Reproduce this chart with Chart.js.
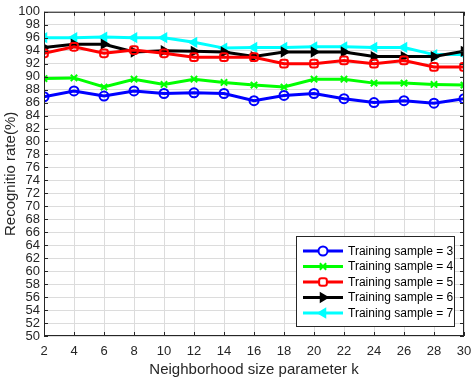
<!DOCTYPE html>
<html>
<head>
<meta charset="utf-8">
<script src="https://cdn.jsdelivr.net/npm/chart.js@4.4.1/dist/chart.umd.min.js"></script>
<style>
  html, body { margin: 0; padding: 0; background: #fff; }
  #wrap { width: 474px; height: 379px; }
</style>
</head>
<body>
<div id="wrap"><canvas id="c" width="474" height="379"></canvas></div>
<script>
const kValues = [2, 4, 6, 8, 10, 12, 14, 16, 18, 20, 22, 24, 26, 28, 30];

const sample3 = [86.9, 87.8, 87.0, 87.8, 87.4, 87.5, 87.4, 86.3, 87.1, 87.4, 86.6, 86.0, 86.3, 85.9, 86.6];
const sample4 = [89.7, 89.8, 88.4, 89.6, 88.8, 89.6, 89.1, 88.7, 88.4, 89.6, 89.6, 89.0, 89.0, 88.8, 88.7];
const sample5 = [93.6, 94.6, 93.6, 94.1, 93.6, 93.0, 93.0, 93.0, 92.0, 92.0, 92.5, 92.0, 92.5, 91.5, 91.5];
const sample6 = [94.5, 95.0, 95.0, 93.8, 94.0, 93.9, 93.8, 93.1, 93.8, 93.8, 93.8, 93.1, 93.1, 93.1, 93.9];
const sample7 = [96.0, 96.0, 96.1, 96.0, 96.0, 95.3, 94.4, 94.5, 94.5, 94.6, 94.6, 94.5, 94.5, 93.4, 93.4];

const seriesLabels = [
    "Training sample = 3",
    "Training sample = 4",
    "Training sample = 5",
    "Training sample = 6",
    "Training sample = 7"
];

const FONT = "'Liberation Sans', Arial, sans-serif";

function series(label, data, color, style, rotation, fill) {
    return {
        label: label,
        data: kValues.map((k, i) => ({ x: k, y: data[i] })),
        borderColor: color,
        backgroundColor: fill ? color : "rgba(255,255,255,0)",
        pointBorderColor: color,
        pointBackgroundColor: fill ? color : "rgba(255,255,255,0)",
        pointStyle: style,
        pointRotation: rotation,
        pointRadius: 4.5,
        pointBorderWidth: 2,
        borderWidth: 3,
        tension: 0
    };
}

// box, inward ticks and in-plot legend like the original figure
const matlabBox = {
    id: "matlabBox",
    afterDraw(chart) {
        const ctx = chart.ctx;
        const a = chart.chartArea;
        const xs = chart.scales.x;
        const ys = chart.scales.y;
        ctx.save();
        ctx.strokeStyle = "#262626";
        ctx.lineWidth = 1;
        ctx.strokeRect(a.left + 0.5, a.top + 0.5, a.right - a.left - 1, a.bottom - a.top - 1);
        ctx.beginPath();
        xs.ticks.forEach(t => {
            const px = Math.round(xs.getPixelForValue(t.value)) + 0.5;
            ctx.moveTo(px, a.bottom); ctx.lineTo(px, a.bottom - 4);
            ctx.moveTo(px, a.top); ctx.lineTo(px, a.top + 4);
        });
        ys.ticks.forEach(t => {
            const py = Math.round(ys.getPixelForValue(t.value)) + 0.5;
            ctx.moveTo(a.left, py); ctx.lineTo(a.left + 4, py);
            ctx.moveTo(a.right, py); ctx.lineTo(a.right - 4, py);
        });
        ctx.stroke();

        // legend
        const lx = 296, ly = 236, lw = 158, lh = 90;
        ctx.fillStyle = "#fff";
        ctx.fillRect(lx, ly, lw, lh);
        ctx.strokeStyle = "#262626";
        ctx.strokeRect(lx + 0.5, ly + 0.5, lw, lh);
        ctx.font = "12px " + FONT;
        ctx.textBaseline = "middle";
        chart.data.datasets.forEach((ds, i) => {
            const y = ly + 15 + i * 15.5;
            ctx.strokeStyle = ds.borderColor;
            ctx.lineWidth = 3;
            ctx.beginPath();
            ctx.moveTo(lx + 7, y); ctx.lineTo(lx + 47, y);
            ctx.stroke();
            ctx.fillStyle = ds.pointBackgroundColor === "rgba(255,255,255,0)" ? "#fff" : ds.pointBackgroundColor;
            ctx.strokeStyle = ds.pointBorderColor;
            ctx.lineWidth = 2;
            Chart.helpers.drawPoint(ctx, {
                pointStyle: ds.pointStyle,
                rotation: ds.pointRotation,
                radius: 4.5,
                borderWidth: 2
            }, lx + 27, y);
            ctx.fillStyle = "#000";
            ctx.fillText(ds.label, lx + 52, y + 0.5);
        });
        ctx.restore();
    }
};

new Chart(document.getElementById("c"), {
    type: "line",
    data: {
        datasets: [
            series(seriesLabels[0], sample3, "#0000ff", "circle", 0, false),
            series(seriesLabels[1], sample4, "#00ff00", "crossRot", 0, false),
            series(seriesLabels[2], sample5, "#ff0000", "rectRounded", 0, false),
            series(seriesLabels[3], sample6, "#000000", "triangle", 90, true),
            series(seriesLabels[4], sample7, "#00ffff", "triangle", -90, true)
        ]
    },
    options: {
        responsive: false,
        animation: false,
        layout: { padding: { top: 0, right: 10, bottom: 0, left: 0 } },
        plugins: {
            legend: { display: false },
            tooltip: { enabled: false }
        },
        scales: {
            x: {
                type: "linear",
                min: 2,
                max: 30,
                ticks: {
                    stepSize: 2,
                    color: "#262626",
                    font: { family: FONT, size: 13 },
                    padding: 2,
                    maxRotation: 0
                },
                grid: { color: "#dcdcdc", tickLength: 6, tickColor: "rgba(0,0,0,0)" },
                border: { display: false },
                title: {
                    display: true,
                    text: "Neighborhood size parameter k",
                    color: "#262626",
                    font: { family: FONT, size: 15 },
                    padding: { top: 2, bottom: 0 }
                },
                afterFit(scale) { scale.height = 43; }
            },
            y: {
                min: 50,
                max: 100,
                ticks: {
                    stepSize: 2,
                    autoSkip: false,
                    color: "#262626",
                    font: { family: FONT, size: 13 },
                    padding: 4
                },
                grid: { color: "#dcdcdc", tickLength: 0 },
                border: { display: false },
                title: {
                    display: true,
                    text: "Recognitio rate(%)",
                    color: "#262626",
                    font: { family: FONT, size: 15 },
                    padding: { top: 2, bottom: 0 }
                },
                afterFit(scale) { scale.width = 44; }
            }
        }
    },
    plugins: [matlabBox]
});
</script>
</body>
</html>
